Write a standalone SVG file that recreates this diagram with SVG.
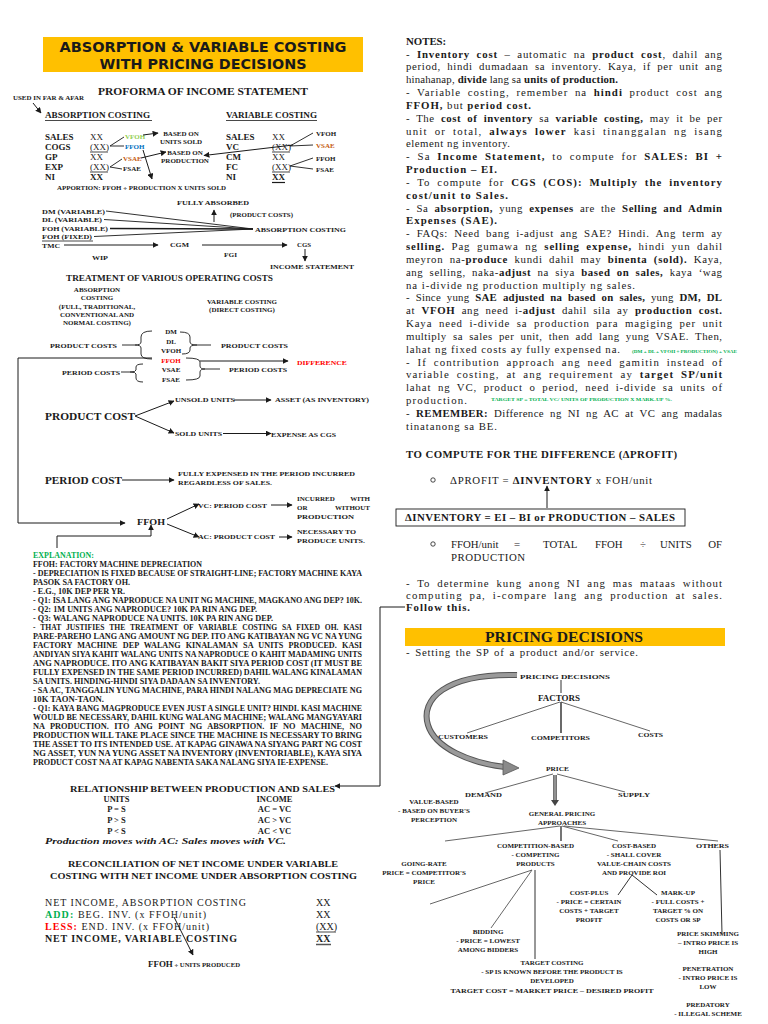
<svg xmlns="http://www.w3.org/2000/svg" width="768" height="1024" viewBox="0 0 768 1024">
<defs>
<marker id="ah" viewBox="0 0 10 10" refX="9" refY="5" markerWidth="6" markerHeight="6" orient="auto"><path d="M0,0 L10,5 L0,10 z" fill="#1a1a1a"/></marker>
<style>
text{font-family:"Liberation Serif","Times New Roman",serif;fill:#1a1a1a}
.b{font-weight:bold}
.s{font-size:7px;font-weight:bold}
.xs{font-size:5.5px;font-weight:bold}
.m{font-size:9px;font-weight:bold}
.r{font-size:9px}
.e{font-size:7.6px;font-weight:bold}
.n{font-size:10.8px}
.j{word-spacing:3px}
.c{text-anchor:middle}
.en{text-anchor:end}
.ln{stroke:#1a1a1a;stroke-width:0.9;fill:none}
.ar{stroke:#1a1a1a;stroke-width:1;fill:none;marker-end:url(#ah)}
.ul{stroke:#1a1a1a;stroke-width:0.8}
.hdr{fill:#FFC000}
.g{fill:#00B050}
.red{fill:#FF0000}
</style>
</defs>
<rect width="768" height="1024" fill="#fff"/>

<g id="title">
<rect class="hdr" x="43" y="37" width="320" height="35"/>
<text x="203" y="52" class="c" style="font-family:'DejaVu Sans',sans-serif;font-weight:bold;font-size:14px" textLength="287" lengthAdjust="spacingAndGlyphs">ABSORPTION &amp; VARIABLE COSTING</text>
<text x="203" y="68.5" class="c" style="font-family:'DejaVu Sans',sans-serif;font-weight:bold;font-size:14px" textLength="207" lengthAdjust="spacingAndGlyphs">WITH PRICING DECISIONS</text>
</g>

<g id="proforma">
<text x="98" y="95" class="b" style="font-size:10px" textLength="210" lengthAdjust="spacingAndGlyphs">PROFORMA OF INCOME STATEMENT</text>
<text x="13" y="100" class="xs" textLength="71" lengthAdjust="spacingAndGlyphs">USED IN FAR &amp; AFAR</text>
<text x="45" y="118" class="s" style="font-size:8px" textLength="105" lengthAdjust="spacingAndGlyphs">ABSORPTION COSTING</text>
<line class="ul" x1="45" y1="120.5" x2="152" y2="120.5"/>
<text x="226" y="118" class="s" style="font-size:8px" textLength="91" lengthAdjust="spacingAndGlyphs">VARIABLE COSTING</text>
<line class="ul" x1="226" y1="120.5" x2="317" y2="120.5"/>
</g>

<g id="absorption-statement">
<text x="45" y="140" class="m">SALES</text><text x="90" y="140" class="r">XX</text>
<text x="45" y="150" class="m">COGS</text><text x="90" y="150" class="r">(XX)</text><line class="ul" x1="90" y1="152" x2="108" y2="152"/>
<text x="45" y="160" class="m">GP</text><text x="90" y="160" class="r">XX</text>
<text x="45" y="170" class="m">EXP</text><text x="90" y="170" class="r">(XX)</text><line class="ul" x1="90" y1="172" x2="108" y2="172"/>
<text x="45" y="180" class="m">NI</text><text x="90" y="180" class="m">XX</text>
<text x="125" y="139" class="s" style="fill:#92D050">VFOH</text>
<text x="125" y="148.5" class="s" style="fill:#0070C0">FFOH</text>
<text x="123" y="161" class="s" style="fill:#C55A11">VSAE</text>
<text x="123" y="171" class="s">FSAE</text>
<text x="181" y="135.5" class="s c">BASED ON</text>
<text x="181" y="144" class="s c">UNITS SOLD</text>
<text x="185" y="154.5" class="s c">BASED ON</text>
<text x="185" y="162.5" class="s c">PRODUCTION</text>
<text x="57" y="190" class="s" style="font-size:6.5px" textLength="169" lengthAdjust="spacingAndGlyphs">APPORTION: FFOH ÷ PRODUCTION X UNITS SOLD</text>
</g>

<g id="variable-statement">
<text x="226" y="140" class="m">SALES</text><text x="272" y="140" class="r">XX</text>
<text x="226" y="150" class="m">VC</text><text x="272" y="150" class="r">(XX)</text><line class="ul" x1="272" y1="152" x2="290" y2="152"/>
<text x="226" y="160" class="m">CM</text><text x="272" y="160" class="r">XX</text>
<text x="226" y="170" class="m">FC</text><text x="272" y="170" class="r">(XX)</text><line class="ul" x1="272" y1="172" x2="290" y2="172"/>
<text x="226" y="180" class="m">NI</text><text x="272" y="180" class="m">XX</text><line class="ul" x1="272" y1="182.5" x2="285" y2="182.5" style="stroke-width:1.2"/>
<text x="316" y="136" class="s">VFOH</text>
<text x="316" y="148" class="s" style="fill:#C55A11">VSAE</text>
<text x="316" y="161" class="s">FFOH</text>
<text x="316" y="172" class="s">FSAE</text>
</g>

<g id="absorption-flow">
<text x="177" y="204.5" class="s" textLength="72" lengthAdjust="spacingAndGlyphs">FULLY ABSORBED</text>
<text x="230" y="217" class="xs" textLength="63" lengthAdjust="spacingAndGlyphs">(PRODUCT COSTS)</text>
<text x="42" y="213.5" class="s" textLength="63" lengthAdjust="spacingAndGlyphs">DM (VARIABLE)</text>
<text x="42" y="222" class="s" textLength="60" lengthAdjust="spacingAndGlyphs">DL (VARIABLE)</text>
<text x="42" y="230.5" class="s" textLength="66" lengthAdjust="spacingAndGlyphs">FOH (VARIABLE)</text>
<text x="42" y="239" class="s" textLength="50" lengthAdjust="spacingAndGlyphs">FOH (FIXED)</text>
<line class="ul" x1="42" y1="241" x2="93" y2="241"/>
<text x="42" y="247.5" class="s" textLength="18" lengthAdjust="spacingAndGlyphs">TMC</text>
<text x="255" y="231.5" class="s" textLength="91" lengthAdjust="spacingAndGlyphs">ABSORPTION COSTING</text>
<text x="170" y="246.5" class="s" textLength="19" lengthAdjust="spacingAndGlyphs">CGM</text>
<text x="297" y="246.5" class="s" textLength="14" lengthAdjust="spacingAndGlyphs">CGS</text>
<text x="92" y="259.5" class="s" textLength="16" lengthAdjust="spacingAndGlyphs">WIP</text>
<text x="224" y="256.5" class="s" textLength="13" lengthAdjust="spacingAndGlyphs">FGI</text>
<text x="270" y="268.5" class="s" textLength="84" lengthAdjust="spacingAndGlyphs">INCOME STATEMENT</text>
</g>

<g id="treatment">
<text x="66" y="281" class="s" style="font-size:7.8px" textLength="207" lengthAdjust="spacingAndGlyphs">TREATMENT OF VARIOUS OPERATING COSTS</text>
<text x="97" y="291.5" class="s c">ABSORPTION</text>
<text x="97" y="299.5" class="s c">COSTING</text>
<text x="97" y="308.5" class="s c">(FULL, TRADITIONAL,</text>
<text x="97" y="316.5" class="s c">CONVENTIONAL AND</text>
<text x="97" y="324.5" class="s c">NORMAL COSTING)</text>
<text x="242" y="303.5" class="s c">VARIABLE COSTING</text>
<text x="242" y="311.5" class="s c">(DIRECT COSTING)</text>
<text x="171" y="333.5" class="s c">DM</text>
<text x="171" y="343.5" class="s c">DL</text>
<text x="171" y="353" class="s c">VFOH</text>
<text x="171" y="362.5" class="s c red">FFOH</text>
<text x="171" y="371.5" class="s c">VSAE</text>
<text x="171" y="381.5" class="s c">FSAE</text>
<text x="50" y="348" class="s" textLength="67" lengthAdjust="spacingAndGlyphs">PRODUCT COSTS</text>
<text x="62" y="374.5" class="s" textLength="58" lengthAdjust="spacingAndGlyphs">PERIOD COSTS</text>
<text x="221" y="347.5" class="s" textLength="67" lengthAdjust="spacingAndGlyphs">PRODUCT COSTS</text>
<text x="229" y="372" class="s" textLength="58" lengthAdjust="spacingAndGlyphs">PERIOD COSTS</text>
<text x="297" y="364.5" class="s red" textLength="50" lengthAdjust="spacingAndGlyphs">DIFFERENCE</text>
<path class="ln" d="M152,331 Q141,331 141,337 L141,342 Q141,345 135,345 Q141,345 141,348 L141,354 Q141,359 152,359"/>
<path class="ln" d="M143,364 Q136,364 136,367 L136,370 Q136,372 130,372 Q136,372 136,374 L136,378 Q136,382 143,382"/>
<path class="ln" d="M180,332 Q190,332 190,337 L190,342 Q190,345 197,345 Q190,345 190,348 L190,350 Q190,354 182,354"/>
<path class="ln" d="M186,358 Q200,358 200,362 L200,366 Q200,369 205,369 Q200,369 200,372 L200,376 Q200,380 186,380"/>
</g>

<g id="product-cost">
<text x="45" y="420" class="b" style="font-size:11px" textLength="90" lengthAdjust="spacingAndGlyphs">PRODUCT COST</text>
<text x="175" y="402" class="s" textLength="60" lengthAdjust="spacingAndGlyphs">UNSOLD UNITS</text>
<text x="275" y="402" class="s" textLength="94" lengthAdjust="spacingAndGlyphs">ASSET (AS INVENTORY)</text>
<text x="175" y="436" class="s" textLength="47" lengthAdjust="spacingAndGlyphs">SOLD UNITS</text>
<text x="271" y="436.5" class="s" textLength="65" lengthAdjust="spacingAndGlyphs">EXPENSE AS CGS</text>
</g>

<g id="period-cost">
<text x="45" y="484" class="b" style="font-size:11px" textLength="77" lengthAdjust="spacingAndGlyphs">PERIOD COST</text>
<text x="178" y="475.5" class="s" textLength="177" lengthAdjust="spacingAndGlyphs">FULLY EXPENSED IN THE PERIOD INCURRED</text>
<text x="178" y="485" class="s" textLength="94" lengthAdjust="spacingAndGlyphs">REGARDLESS OF SALES.</text>
</g>

<g id="ffoh">
<text x="137" y="525" class="b" style="font-size:8.5px" textLength="28" lengthAdjust="spacingAndGlyphs">FFOH</text>
<text x="198" y="508" class="s" textLength="69" lengthAdjust="spacingAndGlyphs">VC: PERIOD COST</text>
<text x="297" y="500.5" class="s">INCURRED</text><text x="370" y="500.5" class="s en">WITH</text>
<text x="297" y="509.5" class="s">OR</text><text x="370" y="509.5" class="s en">WITHOUT</text>
<text x="297" y="518.5" class="s" textLength="57" lengthAdjust="spacingAndGlyphs">PRODUCTION</text>
<text x="198" y="539" class="s" textLength="77" lengthAdjust="spacingAndGlyphs">AC: PRODUCT COST</text>
<text x="297" y="533.5" class="s" textLength="59" lengthAdjust="spacingAndGlyphs">NECESSARY TO</text>
<text x="297" y="543" class="s" textLength="68" lengthAdjust="spacingAndGlyphs">PRODUCE UNITS.</text>
</g>

<g id="explanation">
<text x="33" y="558.3" class="e g" textLength="61" lengthAdjust="spacingAndGlyphs">EXPLANATION:</text>
<text x="33" y="567.3" class="e" textLength="169" lengthAdjust="spacingAndGlyphs">FFOH: FACTORY MACHINE DEPRECIATION</text>
<text x="33" y="576.2" class="e" textLength="329" lengthAdjust="spacingAndGlyphs">- DEPRECIATION IS FIXED BECAUSE OF STRAIGHT-LINE; FACTORY MACHINE KAYA</text>
<text x="33" y="585.2" class="e" textLength="97" lengthAdjust="spacingAndGlyphs">PASOK SA FACTORY OH.</text>
<text x="33" y="594.2" class="e" textLength="92" lengthAdjust="spacingAndGlyphs">- E.G., 10K DEP PER YR.</text>
<text x="33" y="603.1" class="e" textLength="329" lengthAdjust="spacingAndGlyphs">- Q1: ISA LANG ANG NAPRODUCE NA UNIT NG MACHINE, MAGKANO ANG DEP? 10K.</text>
<text x="33" y="612.1" class="e" textLength="224" lengthAdjust="spacingAndGlyphs">- Q2: 1M UNITS ANG NAPRODUCE? 10K PA RIN ANG DEP.</text>
<text x="33" y="621.1" class="e" textLength="240" lengthAdjust="spacingAndGlyphs">- Q3: WALANG NAPRODUCE NA UNITS. 10K PA RIN ANG DEP.</text>
<text x="33" y="630.1" class="e j" textLength="329" lengthAdjust="spacingAndGlyphs">- THAT JUSTIFIES THE TREATMENT OF VARIABLE COSTING SA FIXED OH. KASI</text>
<text x="33" y="639.0" class="e" textLength="329" lengthAdjust="spacingAndGlyphs">PARE-PAREHO LANG ANG AMOUNT NG DEP. ITO ANG KATIBAYAN NG VC NA YUNG</text>
<text x="33" y="648.0" class="e j" textLength="329" lengthAdjust="spacingAndGlyphs">FACTORY MACHINE DEP WALANG KINALAMAN SA UNITS PRODUCED. KASI</text>
<text x="33" y="657.0" class="e" textLength="329" lengthAdjust="spacingAndGlyphs">ANDIYAN SIYA KAHIT WALANG UNITS NA NAPRODUCE O KAHIT MADAMING UNITS</text>
<text x="33" y="665.9" class="e" textLength="329" lengthAdjust="spacingAndGlyphs">ANG NAPRODUCE. ITO ANG KATIBAYAN BAKIT SIYA PERIOD COST (IT MUST BE</text>
<text x="33" y="674.9" class="e" textLength="329" lengthAdjust="spacingAndGlyphs">FULLY EXPENSED IN THE SAME PERIOD INCURRED) DAHIL WALANG KINALAMAN</text>
<text x="33" y="683.9" class="e" textLength="227" lengthAdjust="spacingAndGlyphs">SA UNITS. HINDING-HINDI SIYA DADAAN SA INVENTORY.</text>
<text x="33" y="692.9" class="e" textLength="329" lengthAdjust="spacingAndGlyphs">- SA AC, TANGGALIN YUNG MACHINE, PARA HINDI NALANG MAG DEPRECIATE NG</text>
<text x="33" y="701.8" class="e" textLength="71" lengthAdjust="spacingAndGlyphs">10K TAON-TAON.</text>
<text x="33" y="710.8" class="e" textLength="329" lengthAdjust="spacingAndGlyphs">- Q1: KAYA BANG MAGPRODUCE EVEN JUST A SINGLE UNIT? HINDI. KASI MACHINE</text>
<text x="33" y="719.8" class="e" textLength="329" lengthAdjust="spacingAndGlyphs">WOULD BE NECESSARY, DAHIL KUNG WALANG MACHINE; WALANG MANGYAYARI</text>
<text x="33" y="728.7" class="e j" textLength="329" lengthAdjust="spacingAndGlyphs">NA PRODUCTION. ITO ANG POINT NG ABSORPTION. IF NO MACHINE, NO</text>
<text x="33" y="737.7" class="e" textLength="329" lengthAdjust="spacingAndGlyphs">PRODUCTION WILL TAKE PLACE SINCE THE MACHINE IS NECESSARY TO BRING</text>
<text x="33" y="746.7" class="e" textLength="329" lengthAdjust="spacingAndGlyphs">THE ASSET TO ITS INTENDED USE. AT KAPAG GINAWA NA SIYANG PART NG COST</text>
<text x="33" y="755.6" class="e" textLength="329" lengthAdjust="spacingAndGlyphs">NG ASSET, YUN NA YUNG ASSET NA INVENTORY (INVENTORIABLE), KAYA SIYA</text>
<text x="33" y="764.6" class="e" textLength="295" lengthAdjust="spacingAndGlyphs">PRODUCT COST NA AT KAPAG NABENTA SAKA NALANG SIYA IE-EXPENSE.</text>
</g>

<g id="relationship">
<text x="70" y="791.5" class="b" style="font-size:8.5px" textLength="265" lengthAdjust="spacingAndGlyphs">RELATIONSHIP BETWEEN PRODUCTION AND SALES</text>
<text x="116.5" y="801.5" class="b c" style="font-size:8.5px">UNITS</text>
<text x="274.5" y="801.5" class="b c" style="font-size:8.5px">INCOME</text>
<text x="116.5" y="812" class="b c" style="font-size:8.5px">P = S</text>
<text x="274.5" y="812" class="b c" style="font-size:8.5px">AC = VC</text>
<text x="116.5" y="823" class="b c" style="font-size:8.5px">P &gt; S</text>
<text x="274.5" y="823" class="b c" style="font-size:8.5px">AC &gt; VC</text>
<text x="116.5" y="833.5" class="b c" style="font-size:8.5px">P &lt; S</text>
<text x="274.5" y="833.5" class="b c" style="font-size:8.5px">AC &lt; VC</text>
<text x="45" y="844" class="b" style="font-size:9px;font-style:italic" textLength="241" lengthAdjust="spacingAndGlyphs">Production moves with AC: Sales moves with VC.</text>
</g>

<g id="reconciliation">
<text x="68" y="867" class="b" style="font-size:8.5px" textLength="270" lengthAdjust="spacingAndGlyphs">RECONCILIATION OF NET INCOME UNDER VARIABLE</text>
<text x="50" y="879" class="b" style="font-size:8.5px" textLength="307" lengthAdjust="spacingAndGlyphs">COSTING WITH NET INCOME UNDER ABSORPTION COSTING</text>
<text x="45" y="905.5" style="font-size:10px" textLength="201" lengthAdjust="spacing">NET INCOME, ABSORPTION COSTING</text>
<text x="45" y="917.5" style="font-size:10px" textLength="161" lengthAdjust="spacing"><tspan class="b" style="fill:#00B050">ADD:</tspan> BEG. INV. (x FFOH/unit)</text>
<text x="45" y="930" style="font-size:10px" textLength="164" lengthAdjust="spacing"><tspan class="b" style="fill:#FF0000">LESS:</tspan> END. INV. (x FFOH/unit)</text>
<text x="45" y="942" class="b" style="font-size:10px" textLength="192" lengthAdjust="spacing">NET INCOME, VARIABLE COSTING</text>
<text x="316" y="905.5" style="font-size:10px">XX</text>
<text x="316" y="917.5" style="font-size:10px">XX</text>
<text x="316" y="930" style="font-size:10px">(XX)</text>
<line class="ul" x1="316" y1="932" x2="336" y2="932"/>
<text x="316" y="942" class="b" style="font-size:10px">XX</text>
<line x1="316" y1="944.5" x2="331" y2="944.5" stroke="#555" stroke-width="1.5"/>
<text x="148" y="967" class="b" style="font-size:6px" textLength="92" lengthAdjust="spacingAndGlyphs"><tspan style="font-size:8px">FFOH</tspan> ÷ UNITS PRODUCED</text>
</g>

<g id="notes">
<text x="406" y="44.5" class="n b">NOTES:</text>
<text x="406" y="57.6" class="n j" textLength="316" lengthAdjust="spacing">- <tspan class="b">Inventory cost</tspan> – automatic na <tspan class="b">product cost</tspan>, dahil ang</text>
<text x="406" y="70.4" class="n j" textLength="316" lengthAdjust="spacing">period, hindi dumadaan sa inventory. Kaya, if per unit ang</text>
<text x="406" y="83.3" class="n" textLength="212" lengthAdjust="spacing">hinahanap, <tspan class="b">divide</tspan> lang sa <tspan class="b">units of production.</tspan></text>
<text x="406" y="96.1" class="n j" textLength="316" lengthAdjust="spacing">- Variable costing, remember na <tspan class="b">hindi</tspan> product cost ang</text>
<text x="406" y="108.9" class="n" textLength="125" lengthAdjust="spacing"><tspan class="b">FFOH,</tspan> but <tspan class="b">period cost.</tspan></text>
<text x="406" y="121.8" class="n j" textLength="316" lengthAdjust="spacing">- The <tspan class="b">cost of inventory</tspan> sa <tspan class="b">variable costing,</tspan> may it be per</text>
<text x="406" y="134.6" class="n j" textLength="316" lengthAdjust="spacing">unit or total, <tspan class="b">always lower</tspan> kasi tinanggalan ng isang</text>
<text x="406" y="147.4" class="n" textLength="104" lengthAdjust="spacing">element ng inventory.</text>
<text x="406" y="160.2" class="n j" textLength="316" lengthAdjust="spacing">- Sa <tspan class="b">Income Statement,</tspan> to compute for <tspan class="b">SALES: BI +</tspan></text>
<text x="406" y="173.1" class="n b" textLength="91" lengthAdjust="spacing">Production – EI.</text>
<text x="406" y="185.9" class="n j" textLength="316" lengthAdjust="spacing">- To compute for <tspan class="b">CGS (COS): Multiply the inventory</tspan></text>
<text x="406" y="198.7" class="n b" textLength="102" lengthAdjust="spacing">cost/unit to Sales.</text>
<text x="406" y="211.6" class="n j" textLength="316" lengthAdjust="spacing">- Sa <tspan class="b">absorption,</tspan> yung <tspan class="b">expenses</tspan> are the <tspan class="b">Selling and Admin</tspan></text>
<text x="406" y="224.4" class="n b" textLength="91" lengthAdjust="spacing">Expenses (SAE).</text>
<text x="406" y="237.2" class="n j" textLength="316" lengthAdjust="spacing">- FAQs: Need bang i-adjust ang SAE? Hindi. Ang term ay</text>
<text x="406" y="250.1" class="n j" textLength="316" lengthAdjust="spacing"><tspan class="b">selling.</tspan> Pag gumawa ng <tspan class="b">selling expense,</tspan> hindi yun dahil</text>
<text x="406" y="262.9" class="n j" textLength="316" lengthAdjust="spacing">meyron na-<tspan class="b">produce</tspan> kundi dahil may <tspan class="b">binenta (sold).</tspan> Kaya,</text>
<text x="406" y="275.7" class="n j" textLength="316" lengthAdjust="spacing">ang selling, naka-<tspan class="b">adjust</tspan> na siya <tspan class="b">based on sales,</tspan> kaya ‘wag</text>
<text x="406" y="288.5" class="n" textLength="229" lengthAdjust="spacing">na i-divide ng production multiply ng sales.</text>
<text x="406" y="301.4" class="n j" textLength="316" lengthAdjust="spacing">- Since yung <tspan class="b">SAE adjusted na based on sales,</tspan> yung <tspan class="b">DM, DL</tspan></text>
<text x="406" y="314.2" class="n j" textLength="316" lengthAdjust="spacing">at <tspan class="b">VFOH</tspan> ang need i-<tspan class="b">adjust</tspan> dahil sila ay <tspan class="b">production cost.</tspan></text>
<text x="406" y="327.0" class="n j" textLength="316" lengthAdjust="spacing">Kaya need i-divide sa production para magiging per unit</text>
<text x="406" y="339.9" class="n j" textLength="316" lengthAdjust="spacing">multiply sa sales per unit, then add lang yung VSAE. Then,</text>
<text x="406" y="352.7" class="n" textLength="214" lengthAdjust="spacing">lahat ng fixed costs ay fully expensed na.</text>
<text x="632" y="352.5" class="b" style="font-size:4.5px;fill:#00B050" textLength="105" lengthAdjust="spacingAndGlyphs">(DM + DL + VFOH ÷ PRODUCTION) + VSAE</text>
<text x="406" y="365.5" class="n j" textLength="316" lengthAdjust="spacing">- If contribution approach ang need gamitin instead of</text>
<text x="406" y="378.4" class="n j" textLength="316" lengthAdjust="spacing">variable costing, at ang requirement ay <tspan class="b">target SP/unit</tspan></text>
<text x="406" y="391.2" class="n j" textLength="316" lengthAdjust="spacing">lahat ng VC, product o period, need i-divide sa units of</text>
<text x="406" y="404.0" class="n" textLength="61" lengthAdjust="spacing">production.</text>
<text x="491" y="401" class="b" style="font-size:5px;fill:#00B050" textLength="181" lengthAdjust="spacingAndGlyphs">TARGET SP = TOTAL VC/ UNITS OF PRODUCTION X MARK-UP %.</text>
<text x="406" y="416.8" class="n j" textLength="316" lengthAdjust="spacing">- <tspan class="b">REMEMBER:</tspan> Difference ng NI ng AC at VC ang madalas</text>
<text x="406" y="429.7" class="n" textLength="91" lengthAdjust="spacing">tinatanong sa BE.</text>
</g>

<g id="compute-difference">
<text x="406" y="457.5" class="n b" textLength="271" lengthAdjust="spacing">TO COMPUTE FOR THE DIFFERENCE (ΔPROFIT)</text>
<circle cx="433" cy="480" r="2.2" fill="none" stroke="#1a1a1a" stroke-width="0.8"/>
<text x="450" y="483.5" class="n" textLength="202" lengthAdjust="spacing">ΔPROFIT = <tspan class="b">ΔINVENTORY</tspan> x FOH/unit</text>
</g>
<g id="delta-inventory">
<rect x="396" y="509" width="289" height="17" fill="none" stroke="#1a1a1a" stroke-width="0.9"/>
<text x="405" y="521" class="n b" textLength="270" lengthAdjust="spacing">ΔINVENTORY = EI – BI or PRODUCTION – SALES</text>
</g>
<g id="ffoh-unit">
<circle cx="433" cy="544" r="2.2" fill="none" stroke="#1a1a1a" stroke-width="0.8"/>
<text x="451" y="547.5" class="n">FFOH/unit</text>
<text x="517" y="547.5" class="n c">=</text>
<text x="543" y="547.5" class="n">TOTAL</text>
<text x="595" y="547.5" class="n">FFOH</text>
<text x="643" y="547.5" class="n c">÷</text>
<text x="660" y="547.5" class="n">UNITS</text>
<text x="722" y="547.5" class="n en">OF</text>
<text x="451" y="560.5" class="n" textLength="74" lengthAdjust="spacing">PRODUCTION</text>
<text x="406" y="586.5" class="n j" textLength="316" lengthAdjust="spacing">- To determine kung anong NI ang mas mataas without</text>
<text x="406" y="599" class="n j" textLength="316" lengthAdjust="spacing">computing pa, i-compare lang ang production at sales.</text>
<text x="406" y="611" class="n b" textLength="64" lengthAdjust="spacing">Follow this.</text>
</g>

<g id="pricing-header">
<rect class="hdr" x="405" y="628" width="320" height="18"/>
<text x="564" y="642" class="b c" style="font-size:14px" textLength="158" lengthAdjust="spacingAndGlyphs">PRICING DECISIONS</text>
<text x="406" y="655.5" class="n" style="word-spacing:1.5px" textLength="232" lengthAdjust="spacing">- Setting the SP of a product and/or service.</text>
</g>

<g id="pricing-tree">
<text x="520" y="678.5" class="s" textLength="90" lengthAdjust="spacingAndGlyphs">PRICING DECISIONS</text>
<text x="559" y="700.5" class="s c" style="font-size:7.5px" textLength="42" lengthAdjust="spacingAndGlyphs">FACTORS</text>
<text x="438" y="738.5" class="s" textLength="50" lengthAdjust="spacingAndGlyphs">CUSTOMERS</text>
<text x="531" y="739.5" class="s" textLength="59" lengthAdjust="spacingAndGlyphs">COMPETITORS</text>
<text x="638" y="736.5" class="s" textLength="25" lengthAdjust="spacingAndGlyphs">COSTS</text>
<text x="546" y="770.5" class="s" textLength="23" lengthAdjust="spacingAndGlyphs">PRICE</text>
<text x="465" y="796.5" class="s" textLength="37" lengthAdjust="spacingAndGlyphs">DEMAND</text>
<text x="618" y="796.5" class="s" textLength="32" lengthAdjust="spacingAndGlyphs">SUPPLY</text>
<text x="434" y="803.5" class="s c">VALUE-BASED</text>
<text x="434" y="812.5" class="s c">- BASED ON BUYER'S</text>
<text x="434" y="821.5" class="s c">PERCEPTION</text>
<text x="562" y="815.5" class="s c">GENERAL PRICING</text>
<text x="562" y="824.5" class="s c">APPROACHES</text>
<text x="535.5" y="847.5" class="s c">COMPETITION-BASED</text>
<text x="535.5" y="856.5" class="s c">- COMPETING</text>
<text x="535.5" y="865.5" class="s c">PRODUCTS</text>
<text x="634" y="847.5" class="s c">COST-BASED</text>
<text x="634" y="856.5" class="s c">- SHALL COVER</text>
<text x="634" y="865.5" class="s c">VALUE-CHAIN COSTS</text>
<text x="634" y="874.5" class="s c">AND PROVIDE ROI</text>
<text x="696" y="847.5" class="s" textLength="33" lengthAdjust="spacingAndGlyphs">OTHERS</text>
<text x="424" y="865.5" class="s c">GOING-RATE</text>
<text x="424" y="874.5" class="s c">PRICE = COMPETITOR'S</text>
<text x="424" y="883.5" class="s c">PRICE</text>
<text x="589" y="895.2" class="s c">COST-PLUS</text>
<text x="589" y="904.2" class="s c">- PRICE = CERTAIN</text>
<text x="589" y="913.2" class="s c">COSTS + TARGET</text>
<text x="589" y="921.5" class="s c">PROFIT</text>
<text x="678" y="895.2" class="s c">MARK-UP</text>
<text x="678" y="904.2" class="s c">- FULL COSTS +</text>
<text x="678" y="913.2" class="s c">TARGET % ON</text>
<text x="678" y="921.5" class="s c">COSTS OR SP</text>
<text x="488" y="933.5" class="s c">BIDDING</text>
<text x="488" y="942.5" class="s c">- PRICE = LOWEST</text>
<text x="488" y="951.5" class="s c">AMONG BIDDERS</text>
<text x="708" y="935.5" class="s c">PRICE SKIMMING</text>
<text x="708" y="944.5" class="s c">– INTRO PRICE IS</text>
<text x="708" y="953.5" class="s c">HIGH</text>
<text x="552" y="965" class="s c">TARGET COSTING</text>
<text x="552" y="974" class="s c">- SP IS KNOWN BEFORE THE PRODUCT IS</text>
<text x="552" y="983" class="s c">DEVELOPED</text>
<text x="552" y="992.5" class="s c" textLength="203" lengthAdjust="spacingAndGlyphs">TARGET COST = MARKET PRICE – DESIRED PROFIT</text>
<text x="708" y="970.5" class="s c">PENETRATION</text>
<text x="708" y="979.5" class="s c">- INTRO PRICE IS</text>
<text x="708" y="988.5" class="s c">LOW</text>
<text x="708" y="1006.5" class="s c">PREDATORY</text>
<text x="708" y="1015.5" class="s c">- ILLEGAL SCHEME</text>
</g>

<g id="connectors">
<line class="ar" x1="33" y1="103" x2="41" y2="113"/>
<line class="ln" x1="110" y1="146" x2="124" y2="137"/>
<line class="ln" x1="110" y1="146" x2="124" y2="146"/>
<line class="ar" x1="143" y1="135" x2="158" y2="133"/>
<line class="ar" x1="143" y1="150" x2="152" y2="179"/>
<line class="ln" x1="110" y1="167" x2="122" y2="159"/>
<line class="ln" x1="110" y1="167" x2="122" y2="169"/>
<line class="ar" x1="141" y1="158" x2="166" y2="152"/>
<line class="ar" x1="293" y1="145" x2="204" y2="155.5"/>
<line class="ln" x1="290" y1="146" x2="313" y2="133"/>
<line class="ln" x1="290" y1="146" x2="313" y2="145"/>
<line class="ln" x1="290" y1="166" x2="313" y2="158"/>
<line class="ln" x1="290" y1="166" x2="313" y2="169"/>
<line class="ar" x1="214" y1="222" x2="214" y2="210"/>
<line class="ln" x1="106" y1="211" x2="253" y2="229"/>
<line class="ln" x1="104" y1="219.5" x2="253" y2="229"/>
<line class="ln" x1="110" y1="228.5" x2="253" y2="229" style="stroke-width:1.4"/>
<line class="ln" x1="94" y1="236.5" x2="253" y2="229"/>
<line class="ar" x1="64" y1="245" x2="158" y2="245"/>
<line class="ar" x1="202" y1="245" x2="287" y2="245"/>
<line class="ar" x1="305" y1="249" x2="305" y2="261"/>
<line class="ln" x1="122" y1="345" x2="135" y2="345"/>
<line class="ln" x1="121" y1="372" x2="130" y2="372"/>
<line class="ln" x1="197" y1="345" x2="211" y2="345"/>
<line class="ln" x1="205" y1="369" x2="220" y2="369"/>
<line class="ar" x1="200" y1="361" x2="288" y2="361"/>
<polyline class="ar" points="152,358 18,358 18,523 125,523"/>
<line class="ar" x1="135" y1="416" x2="174" y2="401"/>
<line class="ar" x1="135" y1="416" x2="174" y2="433"/>
<line class="ar" x1="234" y1="400" x2="271" y2="400"/>
<line class="ar" x1="223" y1="433.5" x2="271" y2="433.5"/>
<line class="ar" x1="122" y1="480" x2="174" y2="480"/>
<line class="ar" x1="167" y1="519" x2="199" y2="504"/>
<line class="ar" x1="167" y1="524" x2="199" y2="537"/>
<line class="ar" x1="271" y1="505" x2="292" y2="505"/>
<line class="ar" x1="279" y1="537" x2="292" y2="537"/>
<polyline class="ar" points="57,548 57,536 151,536 151,525"/>
<polyline class="ar" points="405,607 380,607 380,786 335,786"/>
<line class="ar" x1="174" y1="917" x2="193" y2="955"/>
<line class="ar" x1="547" y1="508" x2="547" y2="486"/>
<line class="ln" x1="561" y1="680" x2="561" y2="693"/>
<line class="ln" x1="560" y1="702" x2="467" y2="733" style="stroke:#555"/>
<line class="ln" x1="561" y1="702" x2="561" y2="733" style="stroke-width:1.3"/>
<line class="ln" x1="561" y1="702" x2="650" y2="731" style="stroke:#555"/>
<path d="M517,675 C445,673 420,700 428,725 C435,748 470,763 505,767" fill="none" stroke="#555" stroke-width="6"/>
<path d="M517,675 C445,673 420,700 428,725 C435,748 470,763 505,767" fill="none" stroke="#9a9a9a" stroke-width="4"/>
<polygon points="503,760 519,768 503,775" fill="#8a8a8a" stroke="#555" stroke-width="0.8"/>
<line class="ln" x1="553" y1="774" x2="485" y2="793" style="stroke:#555"/>
<line class="ln" x1="557" y1="774" x2="625" y2="792" style="stroke:#555"/>
<line x1="555" y1="775" x2="555" y2="801" stroke="#444" stroke-width="3.5"/>
<line x1="555" y1="775" x2="555" y2="801" stroke="#bbb" stroke-width="1.3"/>
<polygon points="551,800 555,806 559,800" fill="#444"/>
<line class="ln" x1="560" y1="826" x2="445" y2="841" style="stroke:#555"/>
<line class="ln" x1="561" y1="826" x2="561" y2="841" style="stroke-width:1.2"/>
<line class="ln" x1="562" y1="826" x2="618" y2="841" style="stroke:#555"/>
<line class="ln" x1="564" y1="826" x2="718" y2="841" style="stroke:#555"/>
<line class="ln" x1="720" y1="850" x2="722" y2="934"/>
<line class="ln" x1="532" y1="870" x2="430" y2="904" style="stroke:#555"/>
<line class="ln" x1="532" y1="870" x2="491" y2="928" style="stroke:#555"/>
<line class="ln" x1="535" y1="870" x2="535" y2="959"/>
<line class="ln" x1="632" y1="875" x2="618" y2="895"/>
<line class="ln" x1="632" y1="875" x2="657" y2="895"/>
</g>
</svg>
